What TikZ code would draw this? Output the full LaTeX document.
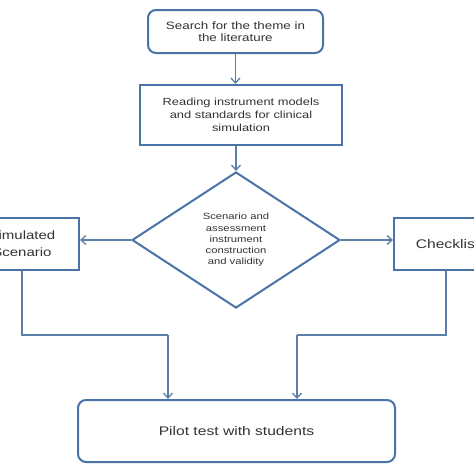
\documentclass[tikz,border=0pt]{standalone}
\usepackage{fontspec}
\setmainfont{Liberation Sans}
\newfontfamily\widesans[FakeStretch=1.25]{Liberation Sans}
\usetikzlibrary{shapes.geometric,arrows.meta}
\definecolor{boxblue}{HTML}{4A74A8}
\definecolor{linblue}{HTML}{5A80AA}
\definecolor{txt}{HTML}{333333}
\begin{document}
\begin{tikzpicture}[x=1pt,y=-1pt,
  box/.style={draw=boxblue,line width=2pt,fill=white,text=txt,align=center,inner sep=0pt},
  rbox/.style={box,rounded corners=8pt},
  conn/.style={draw=linblue,line width=1.3pt,-{Straight Barb[length=5pt,width=9pt]}},
  plain/.style={draw=linblue,line width=1.3pt}]
\useasboundingbox (0,0) rectangle (474,474);
\clip (0,0) rectangle (474,474);
\fill[white] (0,0) rectangle (474,474);
\node[rbox,minimum width=175pt,minimum height=43pt,font=\widesans\fontsize{10.7}{11.5}\selectfont] (search) at (235.5,31.5) {Search for the theme in\\the literature};
\node[box,minimum width=202pt,minimum height=60pt,font=\widesans\fontsize{10.3}{13}\selectfont] (read) at (241,115) {Reading instrument models\\and standards for clinical\\simulation};
\node[diamond,draw=boxblue,line width=2pt,fill=white,text=txt,align=center,inner sep=0pt,minimum width=208pt,minimum height=136pt,font=\widesans\fontsize{9}{11.3}\selectfont] (dia) at (236,240) {Scenario and\\assessment\\instrument\\construction\\and validity};
\node[box,minimum width=114pt,minimum height=52pt,font=\widesans\fontsize{12}{17}\selectfont] (sim) at (22,244) {Simulated\\Scenario};
\node[box,minimum width=104pt,minimum height=52pt,font=\widesans\fontsize{12.5}{15}\selectfont] (check) at (446,244) {\hspace*{3pt}Checklist};
\node[rbox,minimum width=317pt,minimum height=62pt,font=\widesans\fontsize{12.5}{14}\selectfont] (pilot) at (236.5,431) {Pilot test with students};
\coordinate (sl) at (22,335);
\coordinate (sm) at (168,335);
\coordinate (cl) at (446,335);
\coordinate (cm) at (297,335);
\draw[conn] (search.south) -- (search.south |- read.north);
\draw[conn] (read.south -| dia.north) -- (dia.north);
\draw[conn] (dia.west) -- (sim.east |- dia.west);
\draw[conn] (dia.east) -- (check.west |- dia.east);
\draw[plain] (sim.south) -- (sl) -- (sm);
\draw[conn] (sm) -- (sm |- pilot.north);
\draw[plain] (check.south) -- (cl) -- (cm);
\draw[conn] (cm) -- (cm |- pilot.north);
\end{tikzpicture}
\end{document}
